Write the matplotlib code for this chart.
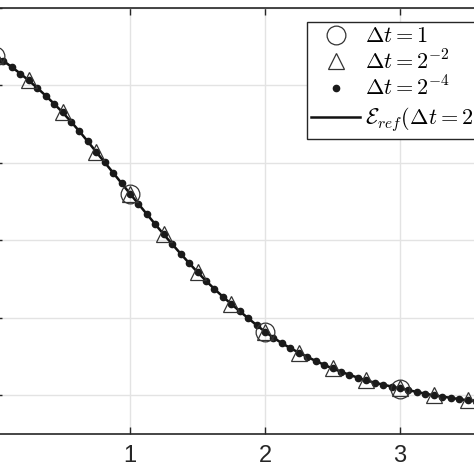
import numpy as np
import matplotlib
matplotlib.use("Agg")
import matplotlib.pyplot as plt

plt.rcParams['mathtext.fontset'] = 'cm'
plt.rcParams['font.family'] = ['Liberation Sans', 'DejaVu Sans']

# Delta t = 1
t1 = [0, 1, 2, 3, 4]
e1 = [0.5385, 0.3603, 0.1821, 0.1080, 0.0872]

# Delta t = 2^-2
t2 = [0, 0.25, 0.5, 0.75, 1.0, 1.25, 1.5, 1.75, 2.0, 2.25, 2.5, 2.75,
      3.0, 3.25, 3.5, 3.75, 4.0]
e2 = [0.5385, 0.5064, 0.4654, 0.4141, 0.3603, 0.3077, 0.2590, 0.2179,
      0.1821, 0.1551, 0.1346, 0.1192, 0.1090, 0.1000, 0.0936, 0.0897, 0.0872]

# Delta t = 2^-4 (and reference curve)
t4 = [i * 0.0625 for i in range(65)]
e4 = [0.5385, 0.5316, 0.5237, 0.5153, 0.5064, 0.4969, 0.4869, 0.4764,
      0.4654, 0.4534, 0.4408, 0.4277, 0.4141, 0.4007, 0.3873, 0.3738,
      0.3603, 0.3470, 0.3338, 0.3207, 0.3077, 0.2951, 0.2828, 0.2707,
      0.2590, 0.2478, 0.2373, 0.2273, 0.2179, 0.2086, 0.1995, 0.1906,
      0.1821, 0.1743, 0.1673, 0.1609, 0.1551, 0.1496, 0.1444, 0.1394,
      0.1346, 0.1304, 0.1265, 0.1227, 0.1192, 0.1163, 0.1137, 0.1113,
      0.1090, 0.1066, 0.1043, 0.1021, 0.1000, 0.0983, 0.0967, 0.0951,
      0.0936, 0.0925, 0.0915, 0.0906, 0.0897, 0.0890, 0.0884, 0.0878,
      0.0872]

xticks = [0, 1, 2, 3, 4]
xticklabels = ['', '1', '2', '3', '']
yticks = [0.1, 0.2, 0.3, 0.4, 0.5, 0.6]

fig = plt.figure(figsize=(4.74, 4.74), dpi=100)
ax = fig.add_axes([-5/474, 40/474, 540/474, 426/474])

ax.plot(t1, e1, linestyle='none', marker='o', markersize=13.5,
        markerfacecolor='none', markeredgecolor='#333333', markeredgewidth=0.9,
        label=r'$\Delta t = 1$', zorder=4)
ax.plot(t2, e2, linestyle='none', marker='^', markersize=11,
        markerfacecolor='none', markeredgecolor='#333333', markeredgewidth=0.9,
        label=r'$\Delta t = 2^{-2}$', zorder=4)
ax.plot(t4, e4, linestyle='none', marker='o', markersize=4.5,
        markerfacecolor='#1a1a1a', markeredgecolor='#1a1a1a',
        label=r'$\Delta t = 2^{-4}$', zorder=3)
ax.plot(t4, e4, color='#111111', linewidth=1.8,
        label=r'$\mathcal{E}_{ref}(\Delta t = 2^{-8})$', zorder=2)

ax.set_xlim(0, 4)
ax.set_ylim(0.05, 0.6)
ax.set_xticks(xticks)
ax.set_xticklabels(xticklabels)
ax.set_yticks(yticks)
ax.grid(True, color='#e3e3e3', linewidth=1.0)
ax.set_axisbelow(True)
ax.tick_params(direction='in', length=5, width=1, colors='#262626',
               top=True, right=True, labelsize=17, pad=8, labelleft=False)
for s in ax.spines.values():
    s.set_color('#262626')
    s.set_linewidth(1.2)

leg = ax.legend(loc='upper left', bbox_to_anchor=(312/540, 1 - 14/426),
                borderaxespad=0, fontsize=16, frameon=True, fancybox=False,
                edgecolor='#262626', framealpha=1, handlelength=2.2,
                handletextpad=0.2, labelspacing=0.12, borderpad=0.2)
leg.get_frame().set_linewidth(1.0)

fig.savefig('out.png', dpi=100)
